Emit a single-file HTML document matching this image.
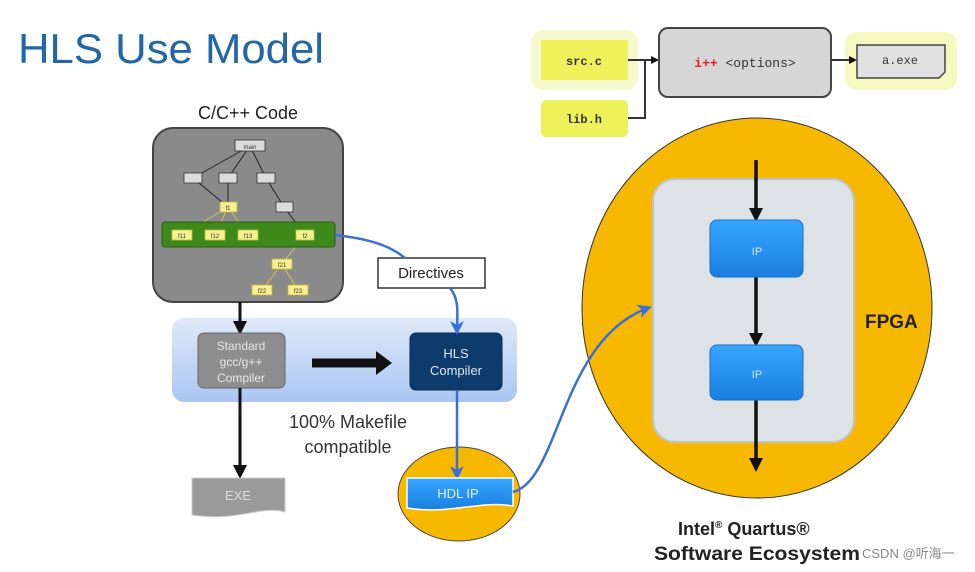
<!DOCTYPE html>
<html><head><meta charset="utf-8"><style>
body{margin:0;background:#fff;}
svg{display:block;font-family:"Liberation Sans",Arial,sans-serif;}
.mono{font-family:"Liberation Mono",monospace;}
</style></head><body>
<svg width="975" height="572" viewBox="0 0 975 572" xmlns="http://www.w3.org/2000/svg">
<defs>
<marker id="ab" markerWidth="8" markerHeight="8" refX="6" refY="4" orient="auto" markerUnits="userSpaceOnUse"><path d="M0,0 L8,4 L0,8 Z" fill="#111"/></marker>
<marker id="abk" markerWidth="14" markerHeight="14" refX="10" refY="7" orient="auto" markerUnits="userSpaceOnUse"><path d="M0,0 L14,7 L0,14 Z" fill="#111"/></marker>
<marker id="abl" markerWidth="14" markerHeight="14" refX="10" refY="7" orient="auto" markerUnits="userSpaceOnUse"><path d="M0,0 L14,7 L0,14 L4,7 Z" fill="#3a6fd8"/></marker>
<linearGradient id="gb" x1="0" y1="0" x2="0" y2="1"><stop offset="0" stop-color="#dfe9f8"/><stop offset="1" stop-color="#a9c6f2"/></linearGradient>
<linearGradient id="ip" x1="0" y1="0" x2="0" y2="1"><stop offset="0" stop-color="#36a6ff"/><stop offset="1" stop-color="#1a7fe0"/></linearGradient>
</defs>
<text x="18" y="63" font-size="42" fill="#2166a6" textLength="306" lengthAdjust="spacingAndGlyphs">HLS Use Model</text>

<!-- top toolchain -->
<rect x="531" y="30" width="107" height="60" rx="12" fill="#f3f7c0" opacity="0.8"/>
<rect x="541" y="40" width="87" height="40" fill="#eef25a"/>
<text x="584" y="65" font-size="12" text-anchor="middle" class="mono" fill="#333" font-weight="bold">src.c</text>
<rect x="541" y="100" width="87" height="37" rx="5" fill="#eef25a"/>
<text x="584" y="123" font-size="12" text-anchor="middle" class="mono" fill="#333" font-weight="bold">lib.h</text>
<path d="M628 60 L657 60" stroke="#333" stroke-width="2" marker-end="url(#ab)"/>
<path d="M628 118 L645 118 L645 60" stroke="#333" stroke-width="2" fill="none"/>
<rect x="659" y="28" width="172" height="69" rx="9" fill="#d6d6d6" stroke="#444" stroke-width="2"/>
<text x="745" y="67" font-size="13" text-anchor="middle" class="mono" fill="#333"><tspan fill="#e02020" font-weight="bold">i++</tspan> &lt;options&gt;</text>
<rect x="845" y="32" width="112" height="58" rx="12" fill="#f3f7b0" opacity="0.8"/>
<path d="M831 60 L855 60" stroke="#333" stroke-width="2" marker-end="url(#ab)"/>
<path d="M857 45 L945 45 L945 72 L939 78 L857 78 Z" fill="#e0e0e0" stroke="#444" stroke-width="1.5"/>
<text x="900" y="64" font-size="12" text-anchor="middle" class="mono" fill="#333">a.exe</text>

<!-- C code -->
<text x="248" y="119" font-size="18" text-anchor="middle" fill="#222">C/C++ Code</text>
<rect x="153" y="128" width="190" height="174" rx="20" fill="#8a8a8a" stroke="#444" stroke-width="2"/>
<g stroke="#222" stroke-width="1">
<line x1="250" y1="146" x2="193" y2="178"/><line x1="250" y1="146" x2="228" y2="178"/><line x1="250" y1="146" x2="266" y2="178"/>
<line x1="193" y1="178" x2="228" y2="207"/><line x1="228" y1="178" x2="228" y2="207"/><line x1="266" y1="178" x2="284" y2="207"/><line x1="284" y1="207" x2="305" y2="235"/>
</g>
<g stroke="#d8c050" stroke-width="1">
<line x1="228" y1="207" x2="182" y2="235"/><line x1="228" y1="207" x2="215" y2="235"/><line x1="228" y1="207" x2="248" y2="235"/>
<line x1="305" y1="235" x2="282" y2="264"/><line x1="282" y1="264" x2="262" y2="290"/><line x1="282" y1="264" x2="298" y2="290"/>
</g>
<rect x="162" y="222" width="173" height="25" rx="3" fill="#3d8a1a" stroke="#2a5a10"/>
<g fill="#dcdcdc" stroke="#333" stroke-width="0.8">
<rect x="235" y="140" width="30" height="11"/><rect x="184" y="173" width="18" height="10"/><rect x="219" y="173" width="18" height="10"/><rect x="257" y="173" width="18" height="10"/><rect x="276" y="202" width="17" height="10"/>
</g>
<g fill="#f5f090" stroke="#c8b840" stroke-width="0.8">
<rect x="220" y="202" width="17" height="10"/><rect x="172" y="230" width="20" height="10"/><rect x="205" y="230" width="20" height="10"/><rect x="238" y="230" width="20" height="10"/><rect x="296" y="230" width="18" height="10"/>
<rect x="272" y="259" width="20" height="10"/><rect x="252" y="285" width="20" height="10"/><rect x="288" y="285" width="20" height="10"/>
</g>
<g font-size="6" text-anchor="middle" fill="#333">
<text x="250" y="149">main</text><text x="228" y="210">f1</text><text x="182" y="238">f11</text><text x="215" y="238">f12</text><text x="248" y="238">f13</text><text x="305" y="238">f2</text><text x="282" y="267">f21</text><text x="262" y="293">f22</text><text x="298" y="293">f23</text>
</g>

<!-- band -->
<rect x="172" y="318" width="345" height="84" rx="12" fill="url(#gb)"/>
<path d="M240 302 L240 331" stroke="#111" stroke-width="3" marker-end="url(#abk)"/>
<rect x="198" y="333" width="87" height="55" rx="6" fill="#8d8d8d" stroke="#666"/>
<g font-size="12" text-anchor="middle" fill="#e8e8e8"><text x="241" y="350">Standard</text><text x="241" y="366">gcc/g++</text><text x="241" y="382">Compiler</text></g>
<path d="M312 363 L378 363" stroke="#111" stroke-width="9"/>
<path d="M376 351 L392 363 L376 375 Z" fill="#111"/>
<rect x="410" y="333" width="92" height="57" rx="6" fill="#0d3b6e" stroke="#062a50"/>
<g font-size="13" text-anchor="middle" fill="#dfe8f5"><text x="456" y="358">HLS</text><text x="456" y="375">Compiler</text></g>
<rect x="378" y="258" width="107" height="30" fill="#fff" stroke="#333" stroke-width="1.5"/>
<text x="431" y="278" font-size="15" text-anchor="middle" fill="#222">Directives</text>
<path d="M335 235 C380 240 395 250 405 258" stroke="#3a6fd8" stroke-width="2.5" fill="none"/>
<path d="M450 288 C460 300 457 315 457 331" stroke="#3a6fd8" stroke-width="2.5" fill="none" marker-end="url(#abl)"/>
<text x="348" y="428" font-size="18" text-anchor="middle" fill="#333">100% Makefile</text>
<text x="348" y="453" font-size="18" text-anchor="middle" fill="#333">compatible</text>
<path d="M240 388 L240 475" stroke="#111" stroke-width="3" marker-end="url(#abk)"/>
<path d="M192 478 L285 478 L285 512 C260 505 240 522 192 515 Z" fill="#9a9a9a" stroke="#ccc"/>
<text x="238" y="500" font-size="13" text-anchor="middle" fill="#ddd">EXE</text>

<!-- HDL IP -->
<ellipse cx="459" cy="494" rx="61" ry="47" fill="#f6b800" stroke="#444" stroke-width="1"/>
<path d="M457 390 L457 476" stroke="#3a6fd8" stroke-width="2.5" marker-end="url(#abl)"/>
<path d="M407 478 L513 478 L513 506 C480 500 450 515 407 508 Z" fill="url(#ip)" stroke="#fff" stroke-width="1.5"/>
<text x="458" y="498" font-size="13" text-anchor="middle" fill="#e8f2ff">HDL IP</text>

<!-- FPGA -->
<ellipse cx="757" cy="308" rx="175" ry="190" fill="#f6b800" stroke="#333" stroke-width="1"/>
<rect x="653" y="179" width="201" height="263" rx="22" fill="#dde2e6" stroke="#c0c4c8" stroke-width="2"/>
<path d="M513 492 C560 480 560 340 648 308" stroke="#3a6fd8" stroke-width="2.5" fill="none" marker-end="url(#abl)"/>
<path d="M756 160 L756 218" stroke="#111" stroke-width="3.5" marker-end="url(#abk)"/>
<path d="M756 277 L756 343" stroke="#111" stroke-width="3.5" marker-end="url(#abk)"/>
<path d="M756 400 L756 468" stroke="#111" stroke-width="3.5" marker-end="url(#abk)"/>
<rect x="710" y="220" width="93" height="57" rx="7" fill="url(#ip)" stroke="#1a6cc0"/>
<rect x="710" y="345" width="93" height="55" rx="7" fill="url(#ip)" stroke="#1a6cc0"/>
<text x="757" y="255" font-size="11" text-anchor="middle" fill="#cfe6ff">IP</text>
<text x="757" y="378" font-size="11" text-anchor="middle" fill="#cfe6ff">IP</text>
<text x="865" y="328" font-size="19" font-weight="bold" fill="#222">FPGA</text>
<text x="678" y="535" font-size="18" font-weight="bold" fill="#222">Intel<tspan font-size="10" dy="-7">®</tspan><tspan dy="7"> Quartus®</tspan></text>
<text x="654" y="560" font-size="19" font-weight="bold" fill="#222" textLength="206" lengthAdjust="spacingAndGlyphs">Software Ecosystem</text>
<text x="862" y="558" font-size="13" fill="#888" font-family="Liberation Sans, Noto Sans CJK SC, sans-serif">CSDN @听海一</text>
</svg>
</body></html>
